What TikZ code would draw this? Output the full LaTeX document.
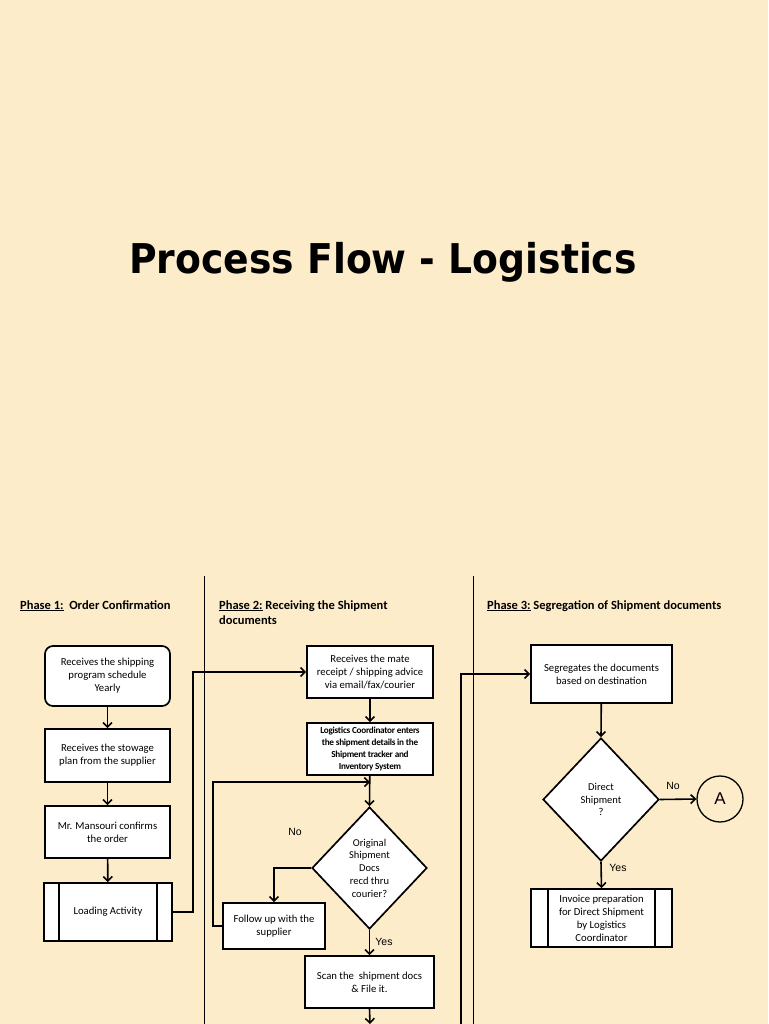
\documentclass[tikz,border=0pt]{standalone}
\usepackage{fontspec}
\setmainfont{Carlito}
\newfontfamily\titlefont{DejaVu Sans}
\newfontfamily\lblfont{Liberation Sans}
\usetikzlibrary{arrows.meta,shapes.geometric}
\definecolor{bg}{RGB}{252,236,201}
\begin{document}
\begin{tikzpicture}[x=1pt,y=-1pt,
  box/.style={draw=black,line width=1.7pt,fill=white,align=center,inner sep=0pt,font=\fontsize{10.7}{13}\selectfont},
  dia/.style={draw=black,line width=1.7pt,fill=white,diamond,inner sep=0pt},
  conn/.style={line width=1.6pt,-{Straight Barb[length=4.5pt,width=9pt]}},
  plain/.style={line width=1.7pt},
  divider/.style={line width=1pt},
  lbl/.style={font=\lblfont\fontsize{10.5}{12}\selectfont,inner sep=0pt},
  dtext/.style={align=center,inner sep=0pt,font=\fontsize{10.5}{12.8}\selectfont},
  head/.style={font=\bfseries\fontsize{12.5}{15}\selectfont,inner sep=0pt}]
\fill[bg] (0,0) rectangle (768,1024);
\useasboundingbox (0,0) rectangle (768,1024);

% title
\node[font=\titlefont\bfseries\fontsize{41}{41}\selectfont,anchor=base,inner sep=0pt] (title) at (383,273) {\scalebox{0.92}[1]{Process Flow - Logistics}};

% dividers
\draw[divider] (204,576) -- (204,1024);
\draw[divider] (473,576) -- (473,1024);

% headings
\node[head,anchor=base west] (h1) at (20,609) {\underline{Phase 1:}\ \ Order Confirmation};
\node[head,anchor=base west] (h2a) at (219,609) {\underline{Phase 2:} Receiving the Shipment};
\node[head,anchor=base west] (h2b) at (219,624) {documents};
\node[head,anchor=base west] (h3) at (487,609) {\underline{Phase 3:} Segregation of Shipment documents};

% phase 1
\node[box,rounded corners=8pt,minimum width=125,minimum height=60] (p1a) at (107.5,676) {Receives the shipping\\program schedule\\Yearly};
\node[box,minimum width=125,minimum height=53] (p1b) at (107.5,755.5) {Receives the stowage\\plan from the supplier};
\node[box,minimum width=125,minimum height=52] (p1c) at (107.5,832) {Mr. Mansouri confirms\\the order};
\node[box,minimum width=128,minimum height=58] (p1d) at (108,912) {Loading Activity};
\draw[plain] ([xshift=16pt]p1d.north west) -- ([xshift=16pt]p1d.south west);
\draw[plain] ([xshift=-16pt]p1d.north east) -- ([xshift=-16pt]p1d.south east);
\draw[conn] (p1a) -- (p1b);
\draw[conn] (p1b) -- (p1c);
\draw[conn] (p1c) -- (p1d);

% phase 2
\node[box,minimum width=126,minimum height=52] (p2a) at (370,672) {Receives the mate\\receipt / shipping advice\\via email/fax/courier};
\node[box,minimum width=126,minimum height=52,font=\bfseries\fontsize{9.2}{12}\selectfont] (p2b) at (370,749) {\addfontfeatures{LetterSpace=-3}Logistics Coordinator enters\\\addfontfeatures{LetterSpace=-3}the shipment details in the\\\addfontfeatures{LetterSpace=-3}Shipment tracker and\\\addfontfeatures{LetterSpace=-3}Inventory System};
\node[dia,minimum width=115,minimum height=122] (d1) at (369.5,868) {};
\node[dtext] (d1t) at (d1.center) {Original\\Shipment\\Docs\\recd thru\\courier?};
\node[box,minimum width=102,minimum height=46] (p2f) at (274,926) {Follow up with the\\supplier};
\node[box,minimum width=129,minimum height=52] (p2g) at (369.5,982) {Scan the\ \ shipment docs\\\& File it.};

\coordinate (j1) at (193,672);
\draw[conn] (p1d.east) -| (j1) -- (p2a.west);
\draw[conn] (p2a) -- (p2b);
\draw[conn] (p2b) -- (d1.north);
\draw[conn] (d1.west) -| (p2f.north);
\coordinate (m1) at (370,782);
\draw[conn] (p2f.west) -- ++(-9,0) |- (m1);
\draw[conn] (d1.south) -- (p2g.north);
\coordinate (bot2) at (370,1024);
\draw[conn] (p2g.south) -- (bot2);
\node[lbl] (no1) at (295,832) {No};
\node[lbl] (yes1) at (384,942) {Yes};

% phase 3
\node[box,minimum width=141,minimum height=58] (p3a) at (601.5,674) {Segregates the documents\\based on destination};
\node[dia,minimum width=116,minimum height=123] (d2) at (601,799.5) {};
\node[dtext] (d2t) at (d2.center) {Direct\\Shipment\\?};
\node[draw=black,line width=1.3pt,circle,minimum size=46,inner sep=0pt,font=\lblfont\fontsize{17}{17}\selectfont] (cA) at (720,799) {A};
\node[box,minimum width=141,minimum height=58] (p3b) at (601.5,918) {Invoice preparation\\for Direct Shipment\\by Logistics\\Coordinator};
\draw[plain] ([xshift=18pt]p3b.north west) -- ([xshift=18pt]p3b.south west);
\draw[plain] ([xshift=-18pt]p3b.north east) -- ([xshift=-18pt]p3b.south east);

\coordinate (b3) at (461,1024);
\draw[conn] (b3) |- (p3a.west);
\draw[conn] (p3a) -- (d2.north);
\draw[conn] (d2.east) -- (cA.west);
\draw[conn] (d2.south) -- (p3b.north);
\node[lbl] (no2) at (673,786) {No};
\node[lbl] (yes2) at (618,868) {Yes};
\end{tikzpicture}
\end{document}
